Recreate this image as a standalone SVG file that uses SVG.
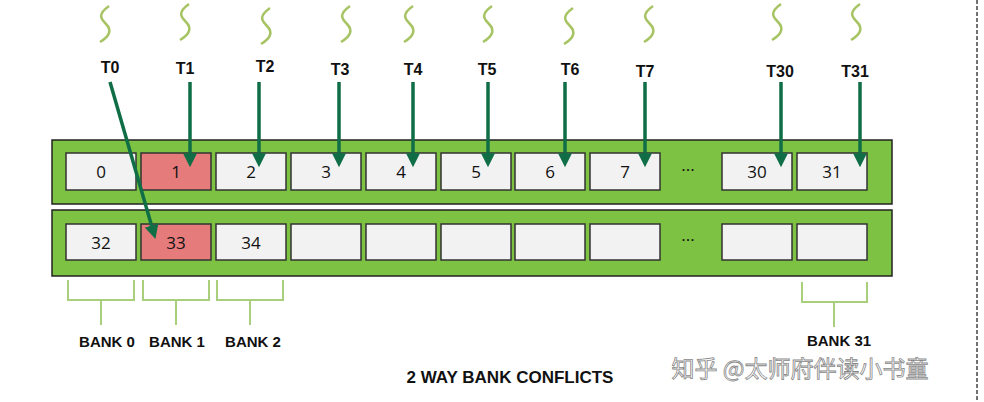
<svg xmlns="http://www.w3.org/2000/svg" width="984" height="402" viewBox="0 0 984 402">
<style>
.panel{fill:#7dc242;stroke:#222;stroke-width:1.5}
.cell{fill:#f2f2f2;stroke:#333;stroke-width:1.5}
.hot{fill:#e57b7b;stroke:#333;stroke-width:1.5}
.num{font-family:"Open Sans","Liberation Sans",sans-serif;font-size:17px;fill:#111;text-anchor:middle}
.tl{font-family:"Liberation Sans",sans-serif;font-weight:bold;font-size:16px;fill:#111;text-anchor:middle}
.bank{font-family:"Liberation Sans",sans-serif;font-weight:bold;font-size:15px;fill:#111;text-anchor:middle}
.sq{fill:none;stroke:#a7c464;stroke-width:2.5}
.br{fill:none;stroke:#a9cf7d;stroke-width:2}
.ar{stroke:#0f6e46;stroke-width:3.5;fill:none;marker-end:url(#ah)}
</style>
<defs>
<marker id="ah" markerWidth="4" markerHeight="4" refX="2.5" refY="2" orient="auto"><path d="M0,0L4,2L0,4z" fill="#0f6e46"/></marker>
<path id="s" d="M5,-20 C-6,-12 -4,-8 2,-2 C8,4 6,10 -4,16"/>
</defs>
<rect width="984" height="402" fill="#fff"/>
<line x1="977" y1="0" x2="977" y2="402" stroke="#444" stroke-width="1.5" stroke-dasharray="4,2"/>
<g id="threads">
<g class="sq"><use href="#s" x="104" y="26"/><use href="#s" x="184" y="24"/><use href="#s" x="265" y="28"/><use href="#s" x="345" y="26"/><use href="#s" x="408" y="26"/><use href="#s" x="487" y="26"/><use href="#s" x="568" y="28"/><use href="#s" x="648" y="26"/><use href="#s" x="776" y="24"/><use href="#s" x="855" y="24"/></g>
<text class="tl" x="110" y="73">T0</text><text class="tl" x="185" y="74">T1</text><text class="tl" x="265" y="72">T2</text><text class="tl" x="340" y="75">T3</text><text class="tl" x="413" y="75">T4</text><text class="tl" x="487" y="75">T5</text><text class="tl" x="570" y="75">T6</text><text class="tl" x="645" y="77">T7</text><text class="tl" x="780" y="77">T30</text><text class="tl" x="855" y="77">T31</text>
</g>
<g id="row0">
<rect class="panel" x="52" y="140" width="840" height="64"/>
<rect class="cell" x="66" y="153" width="70" height="37"/><text class="num" x="101" y="178">0</text>
<rect class="hot" x="141" y="153" width="70" height="37"/><text class="num" x="176" y="178">1</text>
<rect class="cell" x="216" y="153" width="70" height="37"/><text class="num" x="251" y="178">2</text>
<rect class="cell" x="291" y="153" width="70" height="37"/><text class="num" x="326" y="178">3</text>
<rect class="cell" x="366" y="153" width="70" height="37"/><text class="num" x="401" y="178">4</text>
<rect class="cell" x="441" y="153" width="70" height="37"/><text class="num" x="476" y="178">5</text>
<rect class="cell" x="515" y="153" width="70" height="37"/><text class="num" x="550" y="178">6</text>
<rect class="cell" x="590" y="153" width="70" height="37"/><text class="num" x="625" y="178">7</text>
<text class="num" x="688" y="176" font-size="13">···</text>
<rect class="cell" x="722" y="153" width="70" height="37"/><text class="num" x="757" y="178">30</text>
<rect class="cell" x="797" y="153" width="70" height="37"/><text class="num" x="832" y="178">31</text>
</g>
<g id="row1">
<rect class="panel" x="52" y="210" width="840" height="66"/>
<rect class="cell" x="66" y="224" width="70" height="36"/><text class="num" x="101" y="249">32</text>
<rect class="hot" x="141" y="224" width="70" height="36"/><text class="num" x="176" y="249">33</text>
<rect class="cell" x="216" y="224" width="70" height="36"/><text class="num" x="251" y="249">34</text>
<rect class="cell" x="291" y="224" width="70" height="36"/>
<rect class="cell" x="366" y="224" width="70" height="36"/>
<rect class="cell" x="441" y="224" width="70" height="36"/>
<rect class="cell" x="515" y="224" width="70" height="36"/>
<rect class="cell" x="590" y="224" width="70" height="36"/>
<text class="num" x="688" y="246" font-size="13">···</text>
<rect class="cell" x="722" y="224" width="70" height="36"/>
<rect class="cell" x="797" y="224" width="70" height="36"/>
</g>
<g id="connectors">
<line class="ar" x1="110" y1="82" x2="154" y2="234"/>
<line class="ar" x1="190" y1="82" x2="190" y2="162"/>
<line class="ar" x1="259" y1="82" x2="259" y2="162"/>
<line class="ar" x1="339" y1="82" x2="339" y2="162"/>
<line class="ar" x1="413" y1="82" x2="413" y2="162"/>
<line class="ar" x1="488" y1="82" x2="488" y2="162"/>
<line class="ar" x1="565" y1="82" x2="565" y2="162"/>
<line class="ar" x1="645" y1="82" x2="645" y2="162"/>
<line class="ar" x1="781" y1="82" x2="781" y2="162"/>
<line class="ar" x1="860" y1="82" x2="860" y2="162"/>
</g>
<g id="banks">
<path class="br" d="M68,280 V300 H101 V325 M101,300 H134 V280"/>
<path class="br" d="M143,280 V300 H176 V325 M176,300 H209 V280"/>
<path class="br" d="M217,280 V300 H250 V325 M250,300 H283 V280"/>
<path class="br" d="M802,282 V302 H834 V327 M834,302 H867 V282"/>
<text class="bank" x="107" y="347">BANK 0</text>
<text class="bank" x="177" y="347">BANK 1</text>
<text class="bank" x="253" y="347">BANK 2</text>
<text class="bank" x="839" y="346">BANK 31</text>
</g>
<text x="510" y="383" font-family="Liberation Sans,sans-serif" font-weight="bold" font-size="17" text-anchor="middle" fill="#111">2 WAY BANK CONFLICTS</text>
<text x="800" y="377" font-family="Noto Sans CJK SC,sans-serif" font-size="23" text-anchor="middle" fill="#fff" fill-opacity="0.5" stroke="#888" stroke-width="0.8">知乎 @太师府伴读小书童</text>
</svg>
